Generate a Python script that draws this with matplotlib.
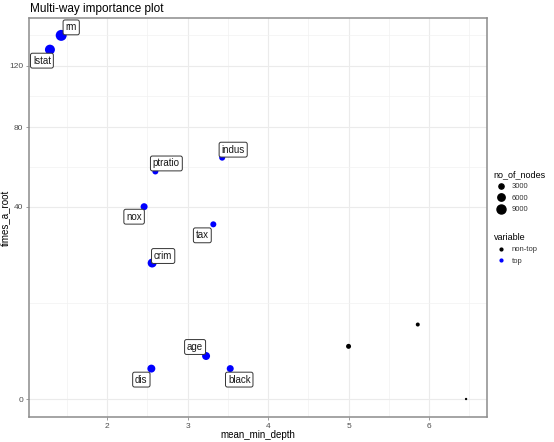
import numpy as np
import matplotlib
matplotlib.use("Agg")
import matplotlib.pyplot as plt
from matplotlib.lines import Line2D

plt.rcParams['font.family'] = ['Liberation Sans', 'DejaVu Sans']

# data
variables = ['rm', 'lstat', 'indus', 'ptratio', 'nox', 'tax', 'crim',
             'age', 'dis', 'black', 'rad', 'zn', 'chas']
mean_min_depth = [1.43, 1.29, 3.43, 2.60, 2.46, 3.32, 2.56,
                  3.23, 2.55, 3.53, 5.00, 5.86, 6.46]
times_a_root = [143, 132, 63, 56, 40, 33, 20, 2, 1, 1, 3, 6, 0]
no_of_nodes = [13300, 11000, 4000, 4000, 5400, 4000, 8900,
               7000, 7000, 5400, 2750, 1760, 600]
group = ['top'] * 10 + ['non-top'] * 3

# label offsets in pixels (dx, dy) for top variables
label_off = {'rm': (10, 8), 'lstat': (-8, -11), 'indus': (11, 8),
             'ptratio': (11, 8), 'nox': (-10, -10), 'tax': (-11, -11),
             'crim': (11, 7), 'age': (-11, 9), 'dis': (-10, -11),
             'black': (9, -11)}

colors = {'top': '#0000FF', 'non-top': '#000000'}
k = 0.0047  # marker area per node


def fwd(v):
    v = np.asarray(v, dtype=float)
    return np.sign(v) * np.sqrt(np.abs(v))


def inv(v):
    v = np.asarray(v, dtype=float)
    return np.sign(v) * v ** 2


fig = plt.figure(figsize=(5.54, 4.42), dpi=100)
ax = fig.add_axes([29 / 554, 1 - 417 / 442, (487 - 29) / 554, (417 - 18) / 442])
ax.set_yscale('function', functions=(fwd, inv))

x = np.array(mean_min_depth)
y = np.array(times_a_root)
n = np.array(no_of_nodes)
c = [colors[g] for g in group]
ax.scatter(x, y, s=n * k, c=c, linewidths=0, zorder=3)

for i, v in enumerate(variables):
    if group[i] != 'top':
        continue
    dx, dy = label_off[v]
    ax.annotate(v, (x[i], y[i]), xytext=(dx, dy), textcoords='offset pixels',
                ha='center', va='center', fontsize=7, color='#1a1a1a', zorder=4,
                bbox=dict(boxstyle='round,pad=0.25,rounding_size=0.2',
                          fc='white', ec='#333333', lw=0.7))

ax.set_xlim(1.03, 6.72)
ax.set_ylim(-0.35, 157)

yticks = [0, 40, 80, 120]
ax.set_yticks(yticks)
ax.set_xticks([2, 3, 4, 5, 6])
ys = fwd(yticks)
ys_minor = list((ys[:-1] + ys[1:]) / 2) + [ys[-1] + (ys[-1] - ys[-2]) / 2]
ax.set_yticks(inv(ys_minor), minor=True)
ax.set_xticks(np.arange(1.5, 7, 1), minor=True)

ax.grid(which='major', color='#ebebeb', lw=0.8)
ax.grid(which='minor', color='#f2f2f2', lw=0.5)
ax.set_axisbelow(True)
ax.tick_params(which='major', length=2.5, width=0.6, color='#8c8c8c',
               labelsize=6, labelcolor='#4d4d4d', pad=1.5)
ax.tick_params(which='minor', length=0)
for s in ax.spines.values():
    s.set_color('#8c8c8c')
    s.set_linewidth(1.1)

ax.set_xlabel('mean_min_depth', fontsize=7)
ax.set_ylabel('times_a_root', fontsize=7)
ax.xaxis.set_label_coords(0.5, -0.032)
ax.yaxis.set_label_coords(-0.042, 0.5)
fig.text(30 / 554, 1 - 9 / 442, 'Multi-way importance plot', fontsize=8.5,
         va='center', ha='left')

# legends
size_vals = [3000, 6000, 9000]
h1 = [Line2D([], [], ls='', marker='o', color='black',
             markersize=np.sqrt(v * k)) for v in size_vals]
leg1 = fig.legend(h1, [str(v) for v in size_vals], title='no_of_nodes',
                  loc='upper left', bbox_to_anchor=(490 / 554, 1 - 166 / 442),
                  frameon=False, fontsize=5.5, title_fontsize=6.5,
                  handletextpad=0.3, labelspacing=0.55, borderpad=0,
                  alignment='left')
h2 = [Line2D([], [], ls='', marker='o', color=colors[g], markersize=2)
      for g in ['non-top', 'top']]
leg2 = fig.legend(h2, ['non-top', 'top'], title='variable',
                  loc='upper left', bbox_to_anchor=(490 / 554, 1 - 229 / 442),
                  frameon=False, fontsize=5.5, title_fontsize=6.5,
                  handletextpad=0.3, labelspacing=0.55, borderpad=0,
                  alignment='left')
for t in leg1.get_texts() + leg2.get_texts():
    t.set_color('#333333')

fig.savefig('out.png', dpi=100)
